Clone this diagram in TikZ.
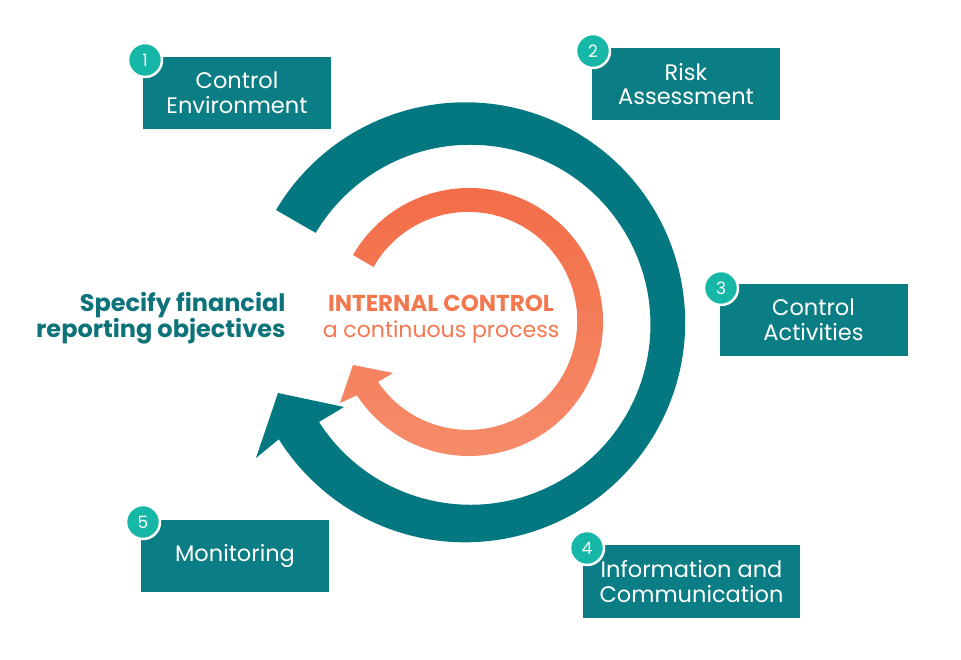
\documentclass[tikz,border=0pt]{standalone}
\usepackage{fontspec}
\setmainfont{Poppins}
\definecolor{teal1}{HTML}{0B7D84}
\definecolor{tealarc}{HTML}{047880}
\definecolor{badge}{HTML}{16B7A6}
\definecolor{orng}{HTML}{F4784F}
\definecolor{orngA}{HTML}{F26B45}
\definecolor{orngB}{HTML}{F68E6C}
\definecolor{tealtxt}{HTML}{0C737A}
\tikzset{
 stepbox/.style={fill=teal1, text=white, minimum width=188pt, minimum height=72pt, inner sep=0pt, align=center, font=\fontsize{22.5}{24.5}\selectfont},
 badgec/.style={circle, fill=badge, draw=white, line width=2.5pt, minimum size=34pt, inner sep=0pt, text=white, font=\fontsize{17}{17}\selectfont},
 ictext/.style={text=orng, inner sep=0pt, anchor=base},
}
\begin{document}
\begin{tikzpicture}[x=1pt,y=1pt]
\useasboundingbox (0,0) rectangle (961,660);
% teal arc
\path[fill=tealarc] (276,450) arc[start angle=149.3,end angle=-147.9,radius=220]
  -- (256,202) -- (278,267) -- (344,253) -- (319,238)
  arc[start angle=-147.3,end angle=149.3,radius=180] -- cycle;
% orange arc
\path[top color=orngA, bottom color=orngB] (353,405) arc[start angle=150,end angle=-146.8,radius=134]
  -- (340,257) -- (353,295) -- (393,287) -- (378,278)
  arc[start angle=-145.9,end angle=150.4,radius=109] -- cycle;
% boxes
\node[stepbox] (b1) at (237,567) {Control\\Environment};
\node[stepbox] (b2) at (686,576) {Risk\\Assessment};
\node[stepbox] (b3) at (813.5,340) {Control\\Activities};
\node[stepbox, minimum width=217pt, minimum height=73pt] (b4) at (691.5,78.5) {Information and\\Communication};
\node[stepbox] (b5) at (235,104) {Monitoring};
\node[badgec] (n1) at (145,600) {1};
\node[badgec] (n2) at (593,609) {2};
\node[badgec] (n3) at (721,372) {3};
\node[badgec] (n4) at (587,112) {4};
\node[badgec] (n5) at (143,138) {5};
% texts
\node[align=right, anchor=east, text=tealtxt, font=\fontsize{24}{26}\selectfont\bfseries] (obj) at (289,342) {Specify financial\\reporting objectives};
\node[ictext, font=\fontsize{23}{25}\selectfont\bfseries] (ic1) at (441,348) {INTERNAL CONTROL};
\node[ictext, font=\fontsize{22}{25}\selectfont] (ic2) at (441,322) {a continuous process};
\end{tikzpicture}
\end{document}
